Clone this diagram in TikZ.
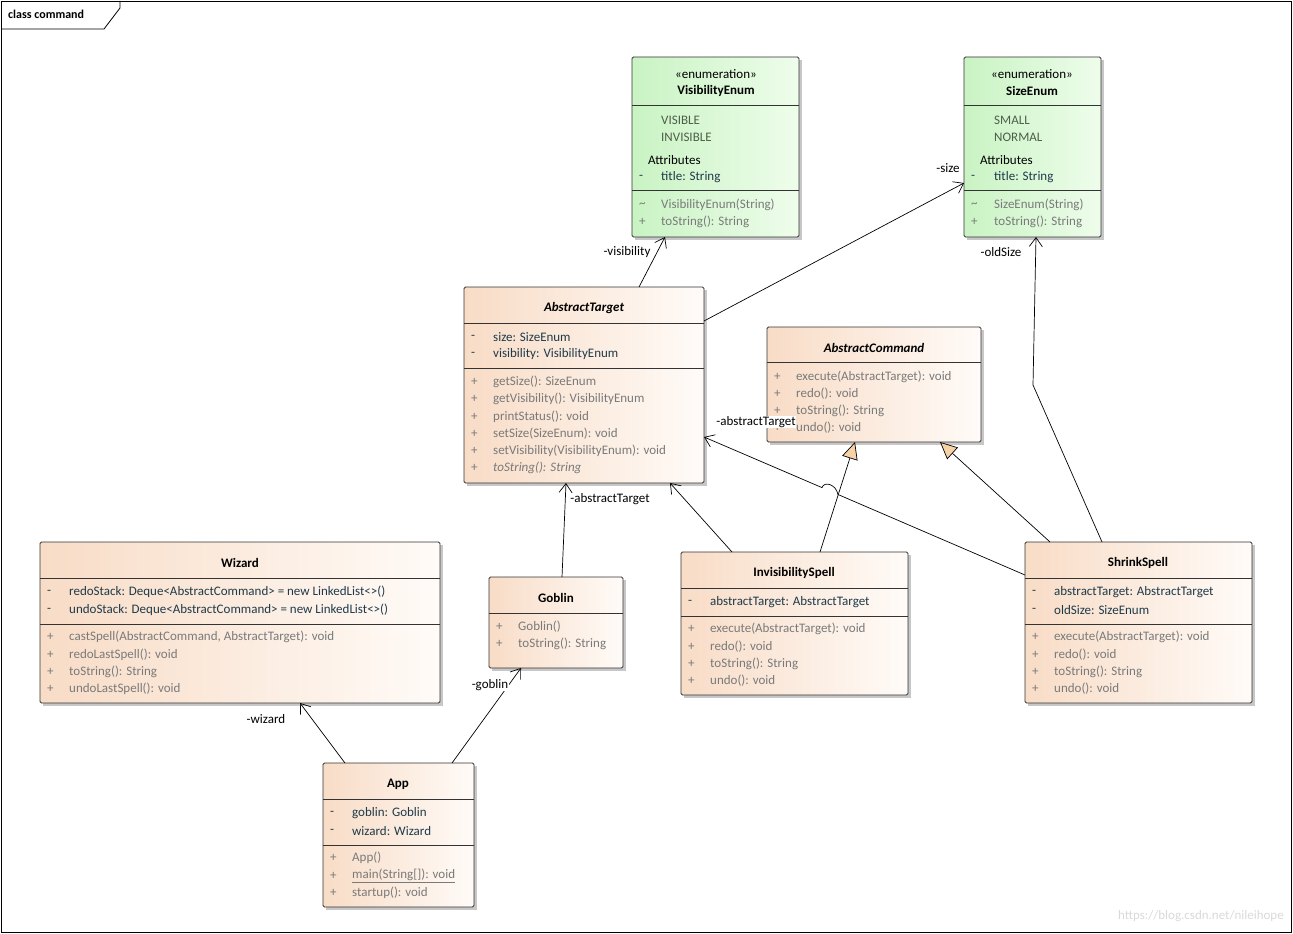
\documentclass[tikz,border=0pt]{standalone}
\usepackage{fontspec}
\setmainfont{Carlito}
\usetikzlibrary{arrows.meta}
\definecolor{peach}{HTML}{F8DCC6}
\definecolor{peachR}{HTML}{FFFBF8}
\definecolor{grn}{HTML}{C9F3C3}
\definecolor{grnR}{HTML}{EEFDEB}
\definecolor{attc}{HTML}{1E3A4A}
\definecolor{metc}{HTML}{7A7A7A}
\definecolor{litc}{HTML}{4E5E48}
\definecolor{trif}{HTML}{F5D3A6}
\newcommand\ubox[6]{%
  \fill[black!22] (#2+3,#3+3) rectangle (#4+3,#5+3);
  \node[draw=black!80, line width=0.8pt, rounded corners=1.5pt, left color=#6, right color=#6R, inner sep=0, outer sep=0,
    minimum width=#4pt-#2pt, minimum height=#5pt-#3pt] (#1) at ({(#2+#4)/2},{(#3+#5)/2}) {};}
\newcommand\usep[3]{\draw[black!80, line width=0.8pt] (#1,#3) -- (#2,#3);}
\begin{document}
\begin{tikzpicture}[x=1pt,y=-1pt,
  t/.style={anchor=west, inner sep=0, font=\fontsize{13}{14}\selectfont},
  ttl/.style={anchor=center, inner sep=0, font=\fontsize{13}{14}\selectfont\bfseries},
  att/.style={t, text=attc}, me/.style={t, text=metc}, li/.style={t, text=litc},
  lbl/.style={inner sep=0.5pt, font=\fontsize{13}{14}\selectfont, fill=white},
  assoc/.style={draw, line width=0.7pt, -{Straight Barb[length=9pt,width=13pt]}},
  gen/.style={draw, line width=0.7pt, -{Triangle[length=17pt,width=16pt,fill=trif]}}]
\useasboundingbox (0,0) rectangle (1293,934);
\draw[line width=0.8pt] (1,1) rectangle (1291,932);
\draw[line width=0.8pt] (1,29) -- (104,29) -- (120,8) -- (120,1);
\node[anchor=west, inner sep=0, font=\fontsize{12}{13}\selectfont\bfseries] (frm) at (8,14) {class command};

% VisibilityEnum
\ubox{ve}{632}{57}{799}{237}{grn}
\usep{632}{799}{105}\usep{632}{799}{190}
\node[ttl, font=\fontsize{13}{14}\selectfont] at (716,74) {«enumeration»};
\node[ttl] at (716,91) {VisibilityEnum};
\node[li] at (661,120) {VISIBLE};
\node[li] at (661,137) {INVISIBLE};
\node[t] at (648,160) {Attributes};
\node[att] at (639,177) {-};\node[att] at (661,177) {title: String};
\node[me] at (639,205) {\textasciitilde};\node[me] at (661,205) {VisibilityEnum(String)};
\node[me] at (639,222) {+};\node[me] at (661,222) {toString(): String};

% SizeEnum
\ubox{se}{964}{57}{1101}{237}{grn}
\usep{964}{1101}{105}\usep{964}{1101}{190}
\node[ttl, font=\fontsize{13}{14}\selectfont] at (1032,74) {«enumeration»};
\node[ttl] at (1032,91) {SizeEnum};
\node[li] at (994,120) {SMALL};
\node[li] at (994,137) {NORMAL};
\node[t] at (980,160) {Attributes};
\node[att] at (971,177) {-};\node[att] at (994,177) {title: String};
\node[me] at (971,205) {\textasciitilde};\node[me] at (994,205) {SizeEnum(String)};
\node[me] at (971,222) {+};\node[me] at (994,222) {toString(): String};

% AbstractTarget
\ubox{atg}{464}{287}{704}{483}{peach}
\usep{464}{704}{323}\usep{464}{704}{368}
\node[ttl, font=\fontsize{13}{14}\selectfont\bfseries\itshape] at (584,308) {AbstractTarget};
\node[att] at (471,337) {-};\node[att] at (493,337) {size: SizeEnum};
\node[att] at (471,354) {-};\node[att] at (493,354) {visibility: VisibilityEnum};
\node[me] at (471,382) {+};\node[me] at (493,382) {getSize(): SizeEnum};
\node[me] at (471,399) {+};\node[me] at (493,399) {getVisibility(): VisibilityEnum};
\node[me] at (471,417) {+};\node[me] at (493,417) {printStatus(): void};
\node[me] at (471,434) {+};\node[me] at (493,434) {setSize(SizeEnum): void};
\node[me] at (471,451) {+};\node[me] at (493,451) {setVisibility(VisibilityEnum): void};
\node[me] at (471,468) {+};\node[me, font=\fontsize{13}{14}\selectfont\itshape] at (493,468) {toString(): String};

% AbstractCommand
\ubox{ac}{767}{327}{981}{442}{peach}
\usep{767}{981}{362}
\node[ttl, font=\fontsize{13}{14}\selectfont\bfseries\itshape] at (874,348) {AbstractCommand};
\begin{scope}[every node/.append style={font=\fontsize{13}{14}\selectfont\itshape}]
\node[me] at (774,377) {+};\node[me] at (796,377) {execute(AbstractTarget): void};
\node[me] at (774,394) {+};\node[me] at (796,394) {redo(): void};
\node[me] at (774,411) {+};\node[me] at (796,411) {toString(): String};
\node[me] at (774,428) {+};\node[me] at (796,428) {undo(): void};
\end{scope}

% Wizard
\ubox{wz}{40}{542}{440}{703}{peach}
\usep{40}{440}{578}\usep{40}{440}{624}
\node[ttl] at (240,563) {Wizard};
\node[att] at (47,592) {-};\node[att] at (69,592) {redoStack: Deque<AbstractCommand> = new LinkedList<>()};
\node[att] at (47,610) {-};\node[att] at (69,610) {undoStack: Deque<AbstractCommand> = new LinkedList<>()};
\node[me] at (47,637) {+};\node[me] at (69,637) {castSpell(AbstractCommand, AbstractTarget): void};
\node[me] at (47,655) {+};\node[me] at (69,655) {redoLastSpell(): void};
\node[me] at (47,672) {+};\node[me] at (69,672) {toString(): String};
\node[me] at (47,689) {+};\node[me] at (69,689) {undoLastSpell(): void};

% Goblin
\ubox{gb}{489}{577}{623}{668}{peach}
\usep{489}{623}{613}
\node[ttl] at (556,598) {Goblin};
\node[me] at (496,627) {+};\node[me] at (518,627) {Goblin()};
\node[me] at (496,644) {+};\node[me] at (518,644) {toString(): String};

% InvisibilitySpell
\ubox{is}{681}{552}{908}{695}{peach}
\usep{681}{908}{588}\usep{681}{908}{616}
\node[ttl] at (794,573) {InvisibilitySpell};
\node[att] at (688,602) {-};\node[att] at (710,602) {abstractTarget: AbstractTarget};
\node[me] at (688,629) {+};\node[me] at (710,629) {execute(AbstractTarget): void};
\node[me] at (688,647) {+};\node[me] at (710,647) {redo(): void};
\node[me] at (688,664) {+};\node[me] at (710,664) {toString(): String};
\node[me] at (688,681) {+};\node[me] at (710,681) {undo(): void};

% ShrinkSpell
\ubox{ss}{1025}{542}{1252}{703}{peach}
\usep{1025}{1252}{578}\usep{1025}{1252}{624}
\node[ttl] at (1138,563) {ShrinkSpell};
\node[att] at (1032,592) {-};\node[att] at (1054,592) {abstractTarget: AbstractTarget};
\node[att] at (1032,610) {-};\node[att] at (1054,610) {oldSize: SizeEnum};
\node[me] at (1032,637) {+};\node[me] at (1054,637) {execute(AbstractTarget): void};
\node[me] at (1032,655) {+};\node[me] at (1054,655) {redo(): void};
\node[me] at (1032,672) {+};\node[me] at (1054,672) {toString(): String};
\node[me] at (1032,689) {+};\node[me] at (1054,689) {undo(): void};

% App
\ubox{ap}{323}{763}{474}{907}{peach}
\usep{323}{474}{799}\usep{323}{474}{845}
\node[ttl] at (398,784) {App};
\node[att] at (330,813) {-};\node[att] at (352,813) {goblin: Goblin};
\node[att] at (330,831) {-};\node[att] at (352,831) {wizard: Wizard};
\node[me] at (330,858) {+};\node[me] at (352,858) {App()};
\node[me] at (330,876) {+};\node[me] at (352,876) {\underline{main(String[]): void}};
\node[me] at (330,893) {+};\node[me] at (352,893) {startup(): void};

% connectors
\draw[assoc] ([xshift=175pt]atg.north west) -- ([xshift=33pt]ve.south west);
\node[lbl] at (627,252) {-visibility};
\draw[assoc] ([yshift=-34pt]atg.north east) -- ([yshift=-126pt]se.north west);
\node[lbl] at (948,168) {-size};
\draw[assoc] ([xshift=77pt]ss.north west) -- (1033,385) -- ([xshift=72pt]se.south west);
\node[lbl] at (1001,252) {-oldSize};
\draw[assoc] ([yshift=-33pt]ss.north west) -- (838,494.5) .. controls (836,484) and (824,481) .. (822,487.6) -- ([yshift=46pt]atg.south east);
\node[lbl] at (756,422) {-abstractTarget};
\draw[assoc] ([xshift=51pt]is.north west) -- ([xshift=206pt]atg.south west);
\draw[gen] ([xshift=139pt]is.north west) -- ([xshift=88pt]ac.south west);
\draw[gen] ([xshift=25pt]ss.north west) -- ([xshift=173pt]ac.south west);
\draw[assoc] ([xshift=73pt]gb.north west) -- ([xshift=102pt]atg.south west);
\node[lbl] at (610,499) {-abstractTarget};
\draw[assoc] ([xshift=129pt]ap.north west) -- ([xshift=32pt]gb.south west);
\node[lbl] at (490,685) {-goblin};
\draw[assoc] ([xshift=22pt]ap.north west) -- ([xshift=260pt]wz.south west);
\node[lbl] at (266,719) {-wizard};
\node[anchor=east, inner sep=0, text=black!15, font=\fontsize{13}{14}\selectfont] at (1284,916) {https://blog.csdn.net/nileihope};
\end{tikzpicture}
\end{document}
